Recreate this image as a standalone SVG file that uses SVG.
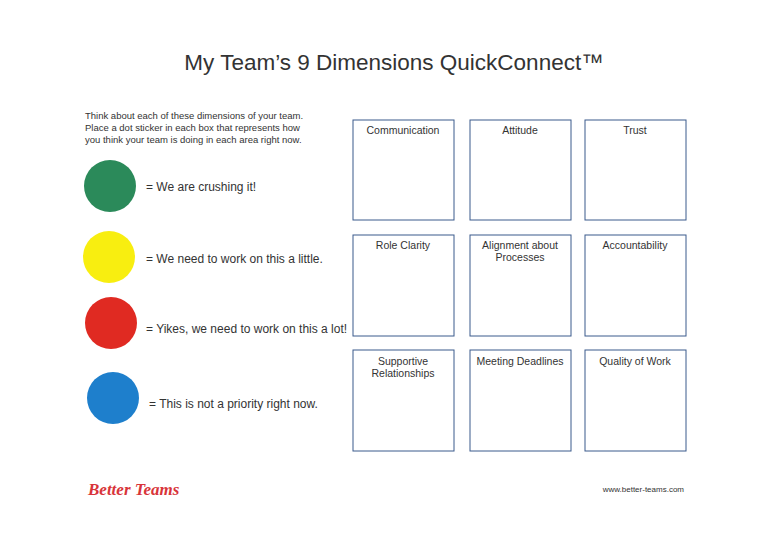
<svg xmlns="http://www.w3.org/2000/svg" width="768" height="544" viewBox="0 0 768 544">
<style>
text{font-family:"Liberation Sans",Arial,sans-serif;fill:#333}
.b rect{fill:#fff;stroke:#3a5a8c;stroke-width:1}
.b text{font-size:10.5px;text-anchor:middle}
.l{font-size:12px}
.i{font-size:9.5px}
</style>
<rect width="768" height="544" fill="#fff"/>
<text x="394" y="70" font-size="22.5" text-anchor="middle" fill="#2a2a2a">My Team’s 9 Dimensions QuickConnect™</text>
<text class="i" x="85" y="119">Think about each of these dimensions of your team.</text>
<text class="i" x="85" y="131">Place a dot sticker in each box that represents how</text>
<text class="i" x="85" y="143">you think your team is doing in each area right now.</text>
<g id="dot-green"><circle cx="110" cy="186" r="26" fill="#2b8a5a"/><text class="l" x="146" y="191">= We are crushing it!</text></g>
<g id="dot-yellow"><circle cx="109" cy="257" r="26" fill="#f8ee10"/><text class="l" x="146" y="263">= We need to work on this a little.</text></g>
<g id="dot-red"><circle cx="111" cy="323" r="26" fill="#e02a22"/><text class="l" x="146" y="333">= Yikes, we need to work on this a lot!</text></g>
<g id="dot-blue"><circle cx="113" cy="398" r="26" fill="#1e7fcc"/><text class="l" x="149" y="408">= This is not a priority right now.</text></g>
<g class="b">
<g id="b1"><rect x="353" y="120" width="101" height="100"/><text x="403" y="134">Communication</text></g>
<g id="b2"><rect x="470" y="120" width="101" height="100"/><text x="520" y="134">Attitude</text></g>
<g id="b3"><rect x="585" y="120" width="101" height="100"/><text x="635" y="134">Trust</text></g>
<g id="b4"><rect x="353" y="235" width="101" height="101"/><text x="403" y="249">Role Clarity</text></g>
<g id="b5"><rect x="470" y="235" width="101" height="101"/><text x="520" y="249">Alignment about</text><text x="520" y="261">Processes</text></g>
<g id="b6"><rect x="585" y="235" width="101" height="101"/><text x="635" y="249">Accountability</text></g>
<g id="b7"><rect x="353" y="350" width="101" height="101"/><text x="403" y="365">Supportive</text><text x="403" y="377">Relationships</text></g>
<g id="b8"><rect x="470" y="350" width="101" height="101"/><text x="520" y="365">Meeting Deadlines</text></g>
<g id="b9"><rect x="585" y="350" width="101" height="101"/><text x="635" y="365">Quality of Work</text></g>
</g>
<text x="88" y="495" font-size="17" font-style="italic" font-weight="bold" style="fill:#d8343a;font-family:'Liberation Serif',serif">Better Teams</text>
<text x="684" y="492" font-size="8" text-anchor="end">www.better-teams.com</text>
</svg>
